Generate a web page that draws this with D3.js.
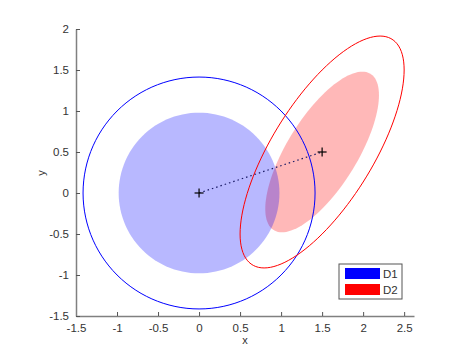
<!DOCTYPE html>
<html>
<head>
<meta charset="utf-8">
<script src="https://cdn.jsdelivr.net/npm/d3@7"></script>
<style>
  body { margin: 0; background: #fff; }
  text { font-family: "Liberation Sans", Arial, sans-serif; }
</style>
</head>
<body>
<div id="chart"></div>
<script>
// two gaussians: mean + covariance
var names = ["D1", "D2"];
var colors = ["#0000ff", "#ff0000"];
var means = [[0, 0], [1.5, 0.5]];
var covs = [[[1, 0], [0, 1]], [[0.5, 0.5], [0.5, 1]]];
var fillLevel = 0.98;    // filled contour (~1 sigma)
var lineLevel = 1.414;   // outlined contour
var xTicks = [-1.5, -1, -0.5, 0, 0.5, 1, 1.5, 2, 2.5];
var yTicks = [-1.5, -1, -0.5, 0, 0.5, 1, 1.5, 2];

var W = 474, H = 355;

var svg = d3.select("#chart").append("svg")
  .attr("width", W)
  .attr("height", H);

var x = d3.scaleLinear().domain([-1.5, 2.62]).range([76, 414]);
var y = d3.scaleLinear().domain([-1.5, 2]).range([316, 29]);

// ellipse outline points from mean, cov (cholesky) and level
var ellipse = function(m, c, k){
  var l11 = Math.sqrt(c[0][0]);
  var l21 = c[1][0] / l11;
  var l22 = Math.sqrt(c[1][1] - l21 * l21);
  var pts = [];
  for(var i = 0; i <= 120; i++){
    var t = i / 120 * 2 * Math.PI;
    var u = Math.cos(t) * k, v = Math.sin(t) * k;
    pts.push([m[0] + l11 * u, m[1] + l21 * u + l22 * v]);
  }
  return pts;
};

var line = d3.line().x(function(d){return x(d[0]);}).y(function(d){return y(d[1]);});

// fills: red first, blue on top
var order = [1, 0];
svg.append("g").selectAll("path").data(order).enter().append("path")
  .attr("d", function(i){return line(ellipse(means[i], covs[i], fillLevel)) + "Z";})
  .attr("fill", function(i){return colors[i];})
  .attr("fill-opacity", 0.28)
  .attr("stroke", "none");

svg.append("g").selectAll("path").data([0, 1]).enter().append("path")
  .attr("d", function(i){return line(ellipse(means[i], covs[i], lineLevel)) + "Z";})
  .attr("fill", "none")
  .attr("stroke", function(i){return colors[i];})
  .attr("stroke-width", 1);

// dotted line between means
svg.append("path")
  .attr("d", line(means))
  .attr("stroke", "#1a1a66")
  .attr("stroke-width", 1.2)
  .attr("stroke-dasharray", "1.5,3")
  .attr("fill", "none");

// plus markers
var plus = svg.append("g").selectAll("g").data(means).enter().append("g")
  .attr("transform", function(d){return "translate(" + x(d[0]) + "," + y(d[1]) + ")";});
plus.append("line").attr("x1", -4.5).attr("x2", 4.5).attr("stroke", "#000").attr("stroke-width", 1.2);
plus.append("line").attr("y1", -4.5).attr("y2", 4.5).attr("stroke", "#000").attr("stroke-width", 1.2);

// axes
var axisColor = "#808080", textColor = "#333";
var fmt = function(d){return String(d);};
var xAxis = svg.append("g")
  .attr("transform", "translate(0," + y(-1.5) + ")")
  .call(d3.axisBottom(x).tickValues(xTicks).tickSize(-4).tickSizeOuter(0).tickPadding(8).tickFormat(fmt));
var yAxis = svg.append("g")
  .attr("transform", "translate(" + x(-1.5) + ",0)")
  .call(d3.axisLeft(y).tickValues(yTicks).tickSize(-4).tickSizeOuter(0).tickPadding(7).tickFormat(fmt));

[xAxis, yAxis].forEach(function(a){
  a.select(".domain").attr("stroke", axisColor).attr("stroke-width", 1.5);
  a.selectAll(".tick line").attr("stroke", "#555");
  a.selectAll(".tick text").attr("fill", textColor).style("font-size", "11.5px");
});

svg.append("text")
  .attr("x", 245).attr("y", 344)
  .attr("text-anchor", "middle")
  .attr("fill", textColor)
  .style("font-size", "11px")
  .text("x");

svg.append("text")
  .attr("transform", "translate(45,173) rotate(-90)")
  .attr("text-anchor", "middle")
  .attr("fill", textColor)
  .style("font-size", "11px")
  .text("y");

// legend
var legend = svg.append("g").attr("transform", "translate(339,264)");
legend.append("rect")
  .attr("width", 63).attr("height", 35)
  .attr("fill", "#fff").attr("stroke", "#555").attr("stroke-width", 1);
var items = legend.selectAll("g.item").data(names).enter().append("g")
  .attr("class", "item")
  .attr("transform", function(d, i){return "translate(0," + (4 + i * 16) + ")";});
items.append("rect")
  .attr("x", 6).attr("width", 35).attr("height", 11)
  .attr("fill", function(d, i){return colors[i];});
items.append("text")
  .attr("x", 44).attr("y", 10)
  .attr("fill", textColor)
  .style("font-size", "11.5px")
  .text(function(d){return d;});
</script>
</body>
</html>
